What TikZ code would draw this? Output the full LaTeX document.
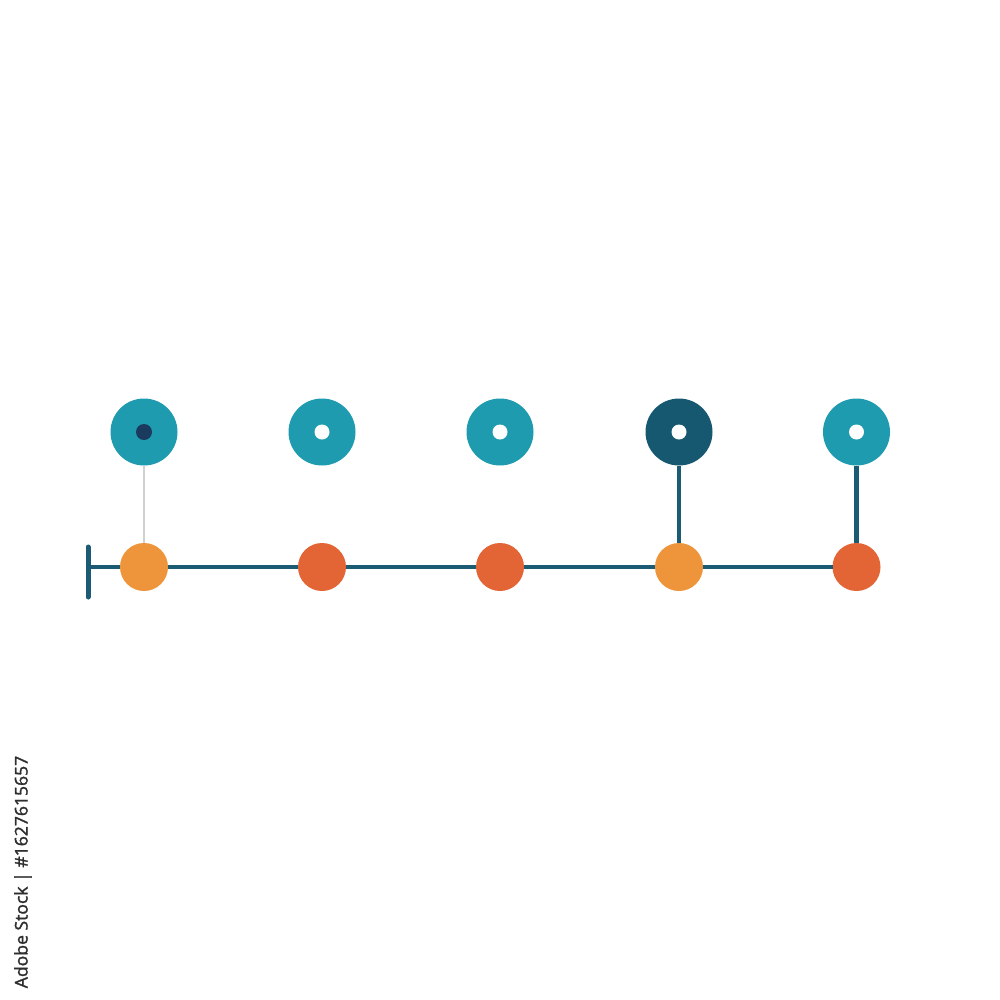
\documentclass[tikz,border=0pt]{standalone}
\usepackage{fontspec}
\setmainfont{Open Sans}
\newfontfamily\credfont[FakeBold=1.6]{Open Sans}
\definecolor{teal1}{HTML}{1E9BAE}
\definecolor{darkteal}{HTML}{155870}
\definecolor{orng}{HTML}{EE943A}
\definecolor{redor}{HTML}{E36434}
\definecolor{linec}{HTML}{1B5B73}
\definecolor{navydot}{HTML}{1A3A5E}
\definecolor{credit}{HTML}{2E2E2E}
\begin{document}
\begin{tikzpicture}[x=0.3mm,y=-0.3mm,
  top/.style={circle,fill=#1,minimum size=20.1mm,inner sep=0pt,outer sep=0pt},
  bot/.style={circle,fill=#1,minimum size=14.4mm,inner sep=0pt,outer sep=0pt},
  hole/.style={circle,fill=#1,minimum size=4.5mm,inner sep=0pt},
  axis/.style={draw=linec,line width=1.5mm,line cap=round},
  stem/.style={draw=linec,line width=1.4mm}]
\useasboundingbox[fill=white] (0,0) rectangle (1000,1000);
% top circles
\node[top=teal1] (t1) at (144,432) {};
\node[top=teal1] (t2) at (322,432) {};
\node[top=teal1] (t3) at (500,432) {};
\node[top=darkteal] (t4) at (679,432) {};
\node[top=teal1] (t5) at (856.5,432) {};
\node[hole=navydot,minimum size=4.8mm] (h1) at (t1) {};
\node[hole=white] (h2) at (t2) {};
\node[hole=white] (h3) at (t3) {};
\node[hole=white] (h4) at (t4) {};
\node[hole=white] (h5) at (t5) {};
% axis
\coordinate (a0) at (88,567);
\coordinate (tk1) at (88,547);
\coordinate (tk2) at (88,597);
\draw[axis] (tk1) -- (tk2);
\node[bot=orng] (b1) at (144,567) {};
\node[bot=redor] (b2) at (322,567) {};
\node[bot=redor] (b3) at (500,567) {};
\node[bot=orng] (b4) at (679,567) {};
\node[bot=redor] (b5) at (856.5,567) {};
\draw[stem] (a0) -- (b1);
\draw[stem] (b1) -- (b2);
\draw[stem] (b2) -- (b3);
\draw[stem] (b3) -- (b4);
\draw[stem] (b4) -- (b5);
% stems
\draw[draw=black!18,line width=0.35mm] (t1) -- (b1);
\draw[stem] (t4) -- (b4);
\draw[stem] (t5) -- (b5);
% credit
\node[rotate=90,text=credit,font=\credfont\fontsize{15}{17}\selectfont,inner sep=0pt] (cr) at (23,872) {Adobe Stock | \#1627615657};
\end{tikzpicture}
\end{document}
